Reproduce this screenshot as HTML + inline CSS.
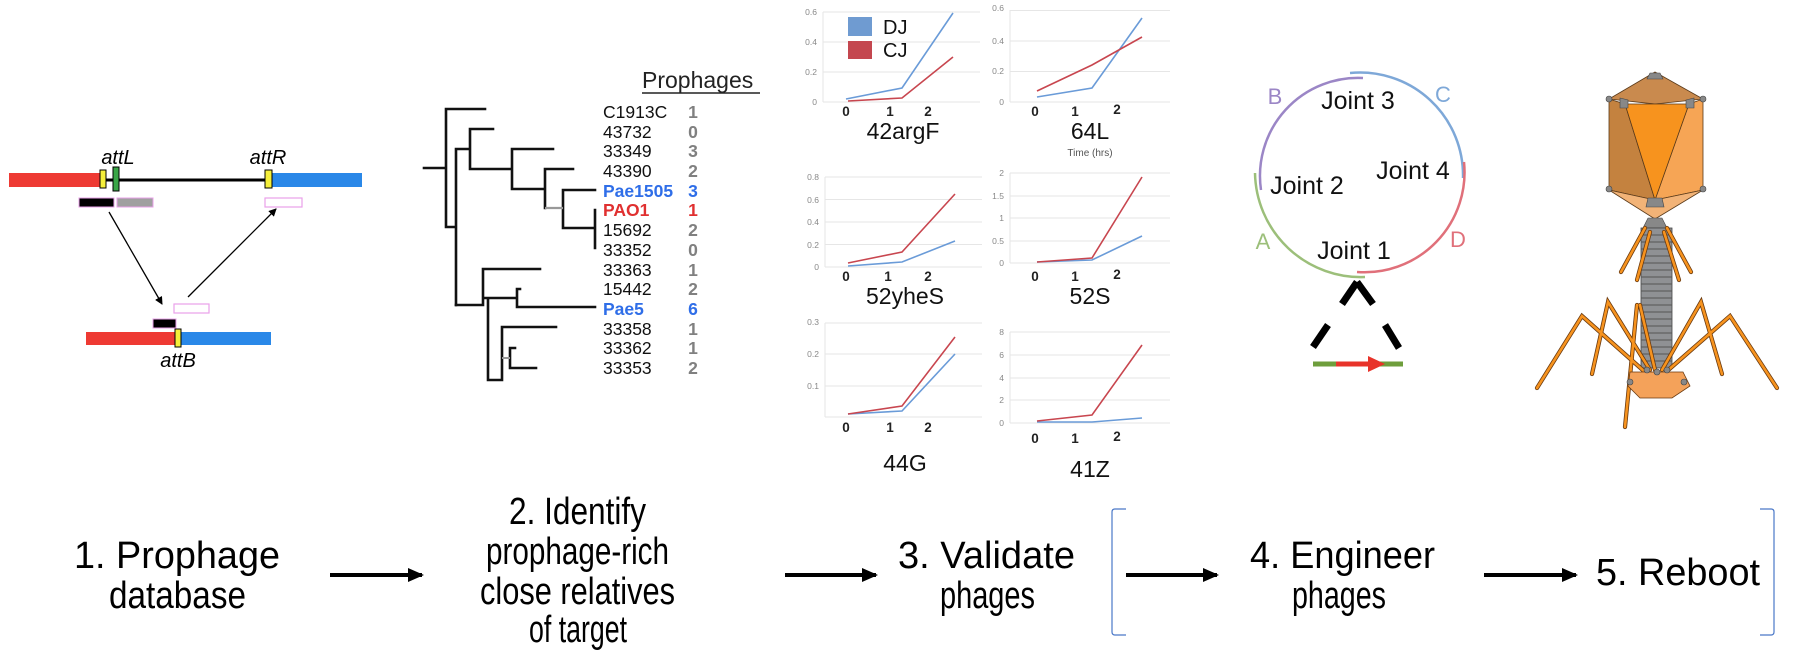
<!DOCTYPE html>
<html><head><meta charset="utf-8"><style>
html,body{margin:0;padding:0;background:#fff;width:1794px;height:654px;overflow:hidden}
svg{display:block}
text{font-family:"Liberation Sans",sans-serif}
</style></head><body>
<svg width="1794" height="654" viewBox="0 0 1794 654" xmlns="http://www.w3.org/2000/svg">
<defs>
<marker id="ah" markerWidth="8" markerHeight="8" refX="7" refY="4" orient="auto" markerUnits="userSpaceOnUse"><path d="M0,0 L8,4 L0,8 z" fill="#000"/></marker>
<marker id="ah2" markerWidth="16" markerHeight="16" refX="14" refY="8" orient="auto" markerUnits="userSpaceOnUse"><path d="M0,1 L16,8 L0,15 z" fill="#000"/></marker>
</defs>

<!-- Panel 1: integration -->
<rect x="9" y="173" width="92" height="14" fill="#ee3a33"/>
<line x1="106" y1="180" x2="265" y2="180" stroke="#000" stroke-width="3"/>
<rect x="100" y="170" width="6" height="18" fill="#f5ef3a" stroke="#000" stroke-width="1"/>
<rect x="113" y="167" width="6" height="24" fill="#3aa647" stroke="#000" stroke-width="1"/>
<rect x="272" y="173" width="90" height="14" fill="#2a88e8"/>
<rect x="265" y="170" width="7" height="18" fill="#f5ef3a" stroke="#000" stroke-width="1"/>
<text x="118" y="164" font-size="20" font-style="italic" text-anchor="middle">attL</text>
<text x="268" y="164" font-size="20" font-style="italic" text-anchor="middle">attR</text>
<rect x="79" y="198" width="35" height="9" fill="#000" stroke="#e8a0e8" stroke-width="1"/>
<rect x="117" y="198" width="36" height="9" fill="#a0a0a0" stroke="#e8a0e8" stroke-width="1"/>
<rect x="265" y="198" width="37" height="9" fill="none" stroke="#eaa0ea" stroke-width="1.2"/>
<line x1="109" y1="212" x2="162" y2="304" stroke="#000" stroke-width="1.3" marker-end="url(#ah)"/>
<line x1="188" y1="297" x2="276" y2="209" stroke="#000" stroke-width="1.3" marker-end="url(#ah)"/>
<rect x="174" y="304" width="35" height="9" fill="none" stroke="#eaa0ea" stroke-width="1.2"/>
<rect x="153" y="319" width="23" height="9" fill="#000" stroke="#e8a0e8" stroke-width="1"/>
<rect x="86" y="332" width="92" height="13" fill="#ee3a33"/>
<rect x="181" y="332" width="90" height="13" fill="#2a88e8"/>
<rect x="175" y="329" width="6" height="18" fill="#f5ef3a" stroke="#000" stroke-width="1"/>
<text x="178" y="367" font-size="20" font-style="italic" text-anchor="middle">attB</text>

<!-- Panel 2: tree -->
<g stroke="#111" stroke-width="2.6" fill="none" stroke-linecap="square">
<path d="M424,168 H446 M446,109 V227 M446,109 H485 M446,227 H456 M456,149 V305 M456,149 H470 M470,129 V169 M470,129 H493 M470,169 H512 M512,149 V189 M512,149 H553 M512,189 H545 M545,169 V208 M545,169 H573 M563,190 V228 M563,190 H595 M563,228 H595 M595,210 V248"/>
<path d="M456,305 H483 M483,269 V305 M483,269 H540 M488,298 V380 M483,298 H517 M517,289 V307 M517,289 H520 M517,307 H595 M488,380 H502 M502,327 V380 M502,327 H556 M510,348 V368 M510,348 H515 M510,368 H536"/>
</g>
<path d="M545,208 H563" stroke="#999" stroke-width="2.2"/>
<path d="M502,358 H510" stroke="#999" stroke-width="2"/>
<text x="642" y="88" font-size="23" fill="#222">Prophages</text>
<line x1="642" y1="93" x2="760" y2="93" stroke="#222" stroke-width="1.6"/>
<g font-size="17.5" fill="#111">
<text x="603" y="118">C1913C</text><text x="603" y="138">43732</text><text x="603" y="157">33349</text><text x="603" y="177">43390</text>
<text x="603" y="197" fill="#2f6ee8" font-weight="bold">Pae1505</text><text x="603" y="216" fill="#e03030" font-weight="bold">PAO1</text>
<text x="603" y="236">15692</text><text x="603" y="256">33352</text><text x="603" y="276">33363</text><text x="603" y="295">15442</text>
<text x="603" y="315" fill="#2f6ee8" font-weight="bold">Pae5</text><text x="603" y="335">33358</text><text x="603" y="354">33362</text><text x="603" y="374">33353</text>
</g>
<g font-size="17.5" fill="#808080" font-weight="bold" text-anchor="middle">
<text x="693" y="118">1</text><text x="693" y="138">0</text><text x="693" y="157">3</text><text x="693" y="177">2</text>
<text x="693" y="197" fill="#2f6ee8">3</text><text x="693" y="216" fill="#e03030">1</text>
<text x="693" y="236">2</text><text x="693" y="256">0</text><text x="693" y="276">1</text><text x="693" y="295">2</text>
<text x="693" y="315" fill="#2f6ee8">6</text><text x="693" y="335">1</text><text x="693" y="354">1</text><text x="693" y="374">2</text>
</g>

<!-- Panel 3: charts -->
<g stroke="#e6e6e6" stroke-width="1">
<path d="M823,12H980M823,42H980M823,72H980M823,102H980"/>
<path d="M1010,10.5H1170M1010,41H1170M1010,71.5H1170M1010,102H1170"/>
<path d="M825,177H982M825,199.5H982M825,222H982M825,244.5H982M825,267H982"/>
<path d="M1010,173H1170M1010,196H1170M1010,218H1170M1010,241H1170M1010,263H1170"/>
<path d="M825,323H982M825,354H982M825,386H982M825,417H982"/>
<path d="M1010,332H1170M1010,355H1170M1010,378H1170M1010,400H1170M1010,423H1170"/>
<path d="M823,12V102M1010,10V102M825,177V267M1010,173V263M825,323V417M1010,332V423"/>
</g>
<g font-size="8.5" fill="#888" text-anchor="end">
<text x="817" y="15">0.6</text><text x="817" y="45">0.4</text><text x="817" y="75">0.2</text><text x="817" y="105">0</text>
<text x="1004" y="44">0.4</text><text x="1004" y="74">0.2</text><text x="1004" y="105">0</text><text x="1004" y="11">0.6</text>
<text x="819" y="180">0.8</text><text x="819" y="203">0.6</text><text x="819" y="225">0.4</text><text x="819" y="248">0.2</text><text x="819" y="270">0</text>
<text x="1004" y="176">2</text><text x="1004" y="199">1.5</text><text x="1004" y="221">1</text><text x="1004" y="244">0.5</text><text x="1004" y="266">0</text>
<text x="819" y="357">0.2</text><text x="819" y="389">0.1</text><text x="819" y="325">0.3</text>
<text x="1004" y="335">8</text><text x="1004" y="358">6</text><text x="1004" y="381">4</text><text x="1004" y="403">2</text><text x="1004" y="426">0</text>
</g>
<g font-size="13.5" fill="#222" text-anchor="middle" font-weight="bold">
<text x="846" y="116">0</text><text x="890" y="116">1</text><text x="928" y="116">2</text>
<text x="1035" y="116">0</text><text x="1075" y="116">1</text><text x="1117" y="114">2</text>
<text x="846" y="281">0</text><text x="888" y="281">1</text><text x="928" y="281">2</text>
<text x="1035" y="281">0</text><text x="1075" y="281">1</text><text x="1117" y="279">2</text>
<text x="846" y="432">0</text><text x="890" y="432">1</text><text x="928" y="432">2</text>
<text x="1035" y="443">0</text><text x="1075" y="443">1</text><text x="1117" y="441">2</text>
</g>
<g font-size="23" fill="#111" text-anchor="middle">
<text x="903" y="139">42argF</text><text x="1090" y="139">64L</text>
<text x="905" y="304">52yheS</text><text x="1090" y="304">52S</text>
<text x="905" y="471">44G</text><text x="1090" y="477">41Z</text>
</g>
<text x="1090" y="156" font-size="10" fill="#555" text-anchor="middle">Time (hrs)</text>
<rect x="848" y="17" width="24" height="19" fill="#6f9bd1"/>
<rect x="848" y="41" width="24" height="18" fill="#c4474f"/>
<text x="883" y="34" font-size="20" fill="#111">DJ</text>
<text x="883" y="57" font-size="20" fill="#111">CJ</text>
<g fill="none" stroke-width="1.6">
<polyline points="846,99 902,88 953,13" stroke="#6a9bd8"/>
<polyline points="848,101 902,98 953,57" stroke="#c8464f"/>
<polyline points="1037,97 1092,88 1142,18" stroke="#6a9bd8"/>
<polyline points="1037,91 1092,65 1142,37" stroke="#c8464f"/>
<polyline points="848,266 902,262 955,241" stroke="#6a9bd8"/>
<polyline points="848,263 902,252 955,194" stroke="#c8464f"/>
<polyline points="1037,262 1092,260 1142,236" stroke="#6a9bd8"/>
<polyline points="1037,262 1092,258 1142,177" stroke="#c8464f"/>
<polyline points="848,414 902,411 955,354" stroke="#6a9bd8"/>
<polyline points="848,414 902,406 955,337" stroke="#c8464f"/>
<polyline points="1037,422 1092,422 1142,418" stroke="#6a9bd8"/>
<polyline points="1037,421 1092,415 1142,345" stroke="#c8464f"/>
</g>

<!-- Panel 4: circle -->
<g fill="none" stroke-width="2.5">
<path d="M1350,73 A103,103 0 0 1 1463,178" stroke="#7ea8d8"/>
<path d="M1363,78 A98,98 0 0 0 1261,190" stroke="#9b86c6"/>
<path d="M1255,173 A106,106 0 0 0 1365,277" stroke="#9cbf7a"/>
<path d="M1464,162 A100,100 0 0 1 1357,272" stroke="#e0707a"/>
</g>
<g font-size="22">
<text x="1275" y="104" fill="#9b86c6" text-anchor="middle">B</text>
<text x="1443" y="102" fill="#7ea8d8" text-anchor="middle">C</text>
<text x="1263" y="249" fill="#9cbf7a" text-anchor="middle">A</text>
<text x="1458" y="247" fill="#e0707a" text-anchor="middle">D</text>
</g>
<g font-size="25" fill="#111" text-anchor="middle">
<text x="1358" y="109">Joint 3</text><text x="1307" y="194">Joint 2</text>
<text x="1413" y="179">Joint 4</text><text x="1354" y="259">Joint 1</text>
</g>
<g stroke="#000" stroke-width="7" stroke-linecap="butt">
<line x1="1342" y1="304" x2="1357" y2="282"/><line x1="1357" y1="282" x2="1373" y2="304"/>
<line x1="1328" y1="325" x2="1313" y2="347"/><line x1="1385" y1="325" x2="1399" y2="348"/>
</g>
<line x1="1313" y1="364" x2="1403" y2="364" stroke="#6e9e3c" stroke-width="5"/>
<line x1="1336" y1="364" x2="1372" y2="364" stroke="#e8332a" stroke-width="5"/>
<path d="M1368,356 L1385,364 L1368,372 z" fill="#e8332a"/>

<!-- Panel 5: phage -->
<g stroke="#5a3a1a" stroke-width="0.8">
<polygon points="1655,72 1703,99 1655,104 1609,99" fill="#c98a4e"/>
<polygon points="1609,99 1625,104 1655,200 1609,190" fill="#c4823f"/>
<polygon points="1703,99 1689,104 1655,200 1703,190" fill="#f6a555"/>
<polygon points="1625,104 1689,104 1655,200" fill="#f7931e"/>
<polygon points="1609,190 1655,200 1703,190 1655,219" fill="#f2b377"/>
</g>
<g fill="#888" stroke="#444" stroke-width="0.6">
<polygon points="1650,73 1660,73 1663,79 1647,79"/>
<polygon points="1620,98 1628,100 1628,108 1620,108"/>
<polygon points="1686,100 1694,98 1694,108 1686,108"/>
<polygon points="1648,198 1662,198 1664,207 1646,207"/>
<circle cx="1609" cy="189" r="3"/><circle cx="1703" cy="189" r="3"/>
<circle cx="1609" cy="99" r="3"/><circle cx="1703" cy="99" r="3"/>
<polygon points="1648,218 1662,218 1667,228 1643,228"/>
</g>
<rect x="1641" y="228" width="31" height="140" fill="#8f9194" stroke="#444" stroke-width="0.8"/>
<g stroke="#555" stroke-width="1">
<path d="M1641,235H1672M1641,242H1672M1641,249H1672M1641,256H1672M1641,263H1672M1641,270H1672M1641,277H1672M1641,284H1672M1641,291H1672M1641,298H1672M1641,305H1672M1641,312H1672M1641,319H1672M1641,326H1672M1641,333H1672M1641,340H1672M1641,347H1672M1641,354H1672M1641,361H1672"/>
</g>
<g stroke="#6a3a10" stroke-width="4.2" stroke-linecap="round" fill="none">
<path d="M1645,228 L1621,272 M1667,228 L1691,272 M1650,232 L1637,280 M1664,232 L1679,280"/>
<path d="M1645,372 L1582,316 L1537,388 M1666,372 L1730,316 L1777,388 M1650,370 L1608,302 L1592,374 M1662,370 L1701,302 L1722,374 M1637,305 L1625,427 M1640,305 L1655,370"/>
</g>
<g stroke="#f7931e" stroke-width="2.6" stroke-linecap="round" fill="none">
<path d="M1645,228 L1621,272 M1667,228 L1691,272 M1650,232 L1637,280 M1664,232 L1679,280"/>
<path d="M1645,372 L1582,316 L1537,388 M1666,372 L1730,316 L1777,388 M1650,370 L1608,302 L1592,374 M1662,370 L1701,302 L1722,374 M1637,305 L1625,427 M1640,305 L1655,370"/>
</g>
<polygon points="1630,372 1683,372 1690,386 1672,398 1640,398 1628,386" fill="#f4a25a" stroke="#6a3a10" stroke-width="0.8"/>
<g fill="#888" stroke="#444" stroke-width="0.6"><circle cx="1647" cy="370" r="3"/><circle cx="1657" cy="372" r="3"/><circle cx="1667" cy="370" r="3"/><circle cx="1630" cy="382" r="3"/><circle cx="1684" cy="382" r="3"/></g>

<!-- Bottom workflow -->
<g font-size="38" fill="#000" text-anchor="start">
<text x="74" y="568" textLength="206" lengthAdjust="spacingAndGlyphs">1. Prophage</text>
<text x="109" y="608" textLength="137" lengthAdjust="spacingAndGlyphs">database</text>
<text x="509" y="524" textLength="137" lengthAdjust="spacingAndGlyphs">2. Identify</text>
<text x="486" y="564" textLength="183" lengthAdjust="spacingAndGlyphs">prophage-rich</text>
<text x="480" y="604" textLength="195" lengthAdjust="spacingAndGlyphs">close relatives</text>
<text x="529" y="642" textLength="98" lengthAdjust="spacingAndGlyphs">of target</text>
<text x="898" y="568" textLength="177" lengthAdjust="spacingAndGlyphs">3. Validate</text>
<text x="940" y="608" textLength="95" lengthAdjust="spacingAndGlyphs">phages</text>
<text x="1250" y="568" textLength="185" lengthAdjust="spacingAndGlyphs">4. Engineer</text>
<text x="1292" y="608" textLength="94" lengthAdjust="spacingAndGlyphs">phages</text>
<text x="1596" y="585" textLength="164" lengthAdjust="spacingAndGlyphs">5. Reboot</text>
</g>
<g stroke="#000" stroke-width="4">
<line x1="330" y1="575" x2="422" y2="575" marker-end="url(#ah2)"/>
<line x1="785" y1="575" x2="876" y2="575" marker-end="url(#ah2)"/>
<line x1="1126" y1="575" x2="1217" y2="575" marker-end="url(#ah2)"/>
<line x1="1484" y1="575" x2="1576" y2="575" marker-end="url(#ah2)"/>
</g>
<path d="M1126,509 H1115 Q1112,509 1112,512 V632 Q1112,635 1115,635 H1126" fill="none" stroke="#4a78c8" stroke-width="1.2"/>
<path d="M1760,509 H1771 Q1774,509 1774,512 V632 Q1774,635 1771,635 H1760" fill="none" stroke="#4a78c8" stroke-width="1.2"/>
</svg>
</body></html>
